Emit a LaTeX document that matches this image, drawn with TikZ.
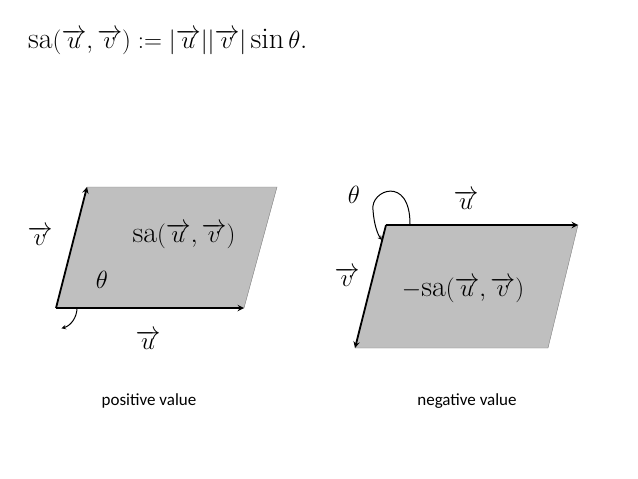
\documentclass[tikz,border=0pt]{standalone}
\usepackage{fontspec}
\newfontfamily\capfont{Carlito}
\begin{document}
\begin{tikzpicture}[x=1pt,y=-1pt,
  vec/.style={->,line width=1.8pt,>=stealth},
  lbl/.style={inner sep=0pt,font=\fontsize{30}{32}\selectfont},
  captext/.style={inner sep=0pt,font=\capfont\fontsize{17}{20}\selectfont}]
\useasboundingbox (0,0) rectangle (638,479);
\node[lbl,anchor=west] (title) at (28,42) {$\mathrm{sa}(\overrightarrow{u},\overrightarrow{v}):=|\overrightarrow{u}||\overrightarrow{v}|\sin\theta.$};
% left
\coordinate (A) at (56,308); \coordinate (B) at (244,308);
\coordinate (C) at (277,187); \coordinate (D) at (87,187);
\fill[gray!50,draw=gray] (A)--(B)--(C)--(D)--cycle;
\draw[vec] (A) -- (B);
\draw[vec] (A) -- (D);
\node[lbl] (sa1) at (184,236) {$\mathrm{sa}(\overrightarrow{u},\overrightarrow{v})$};
\node[lbl] (v1) at (40,236) {$\overrightarrow{v}$};
\node[lbl] (u1) at (148,340) {$\overrightarrow{u}$};
\node[lbl] (t1) at (102,280) {$\theta$};
\draw[->,line width=1pt,>=stealth] (77,308) arc[start angle=0,end angle=75,radius=21];
% right
\coordinate (P) at (386,225); \coordinate (Q) at (578,225);
\coordinate (R) at (548,348); \coordinate (S) at (355,348);
\fill[gray!50,draw=gray] (P)--(Q)--(R)--(S)--cycle;
\draw[vec] (P) -- (Q);
\draw[vec] (P) -- (S);
\node[lbl] (sa2) at (463,290) {$-\mathrm{sa}(\overrightarrow{u},\overrightarrow{v})$};
\node[lbl] (v2) at (347,277) {$\overrightarrow{v}$};
\node[lbl] (u2) at (466,200) {$\overrightarrow{u}$};
\node[lbl] (t2) at (354,195) {$\theta$};
\draw[->,line width=1pt,>=stealth] (410,224) .. controls (410,175) and (370,190) .. (373,210) .. controls (374,225) and (378,235) .. (382,240);
\node[captext] (c1) at (149,401) {positive value};
\node[captext] (c2) at (467,401) {negative value};
\end{tikzpicture}
\end{document}
